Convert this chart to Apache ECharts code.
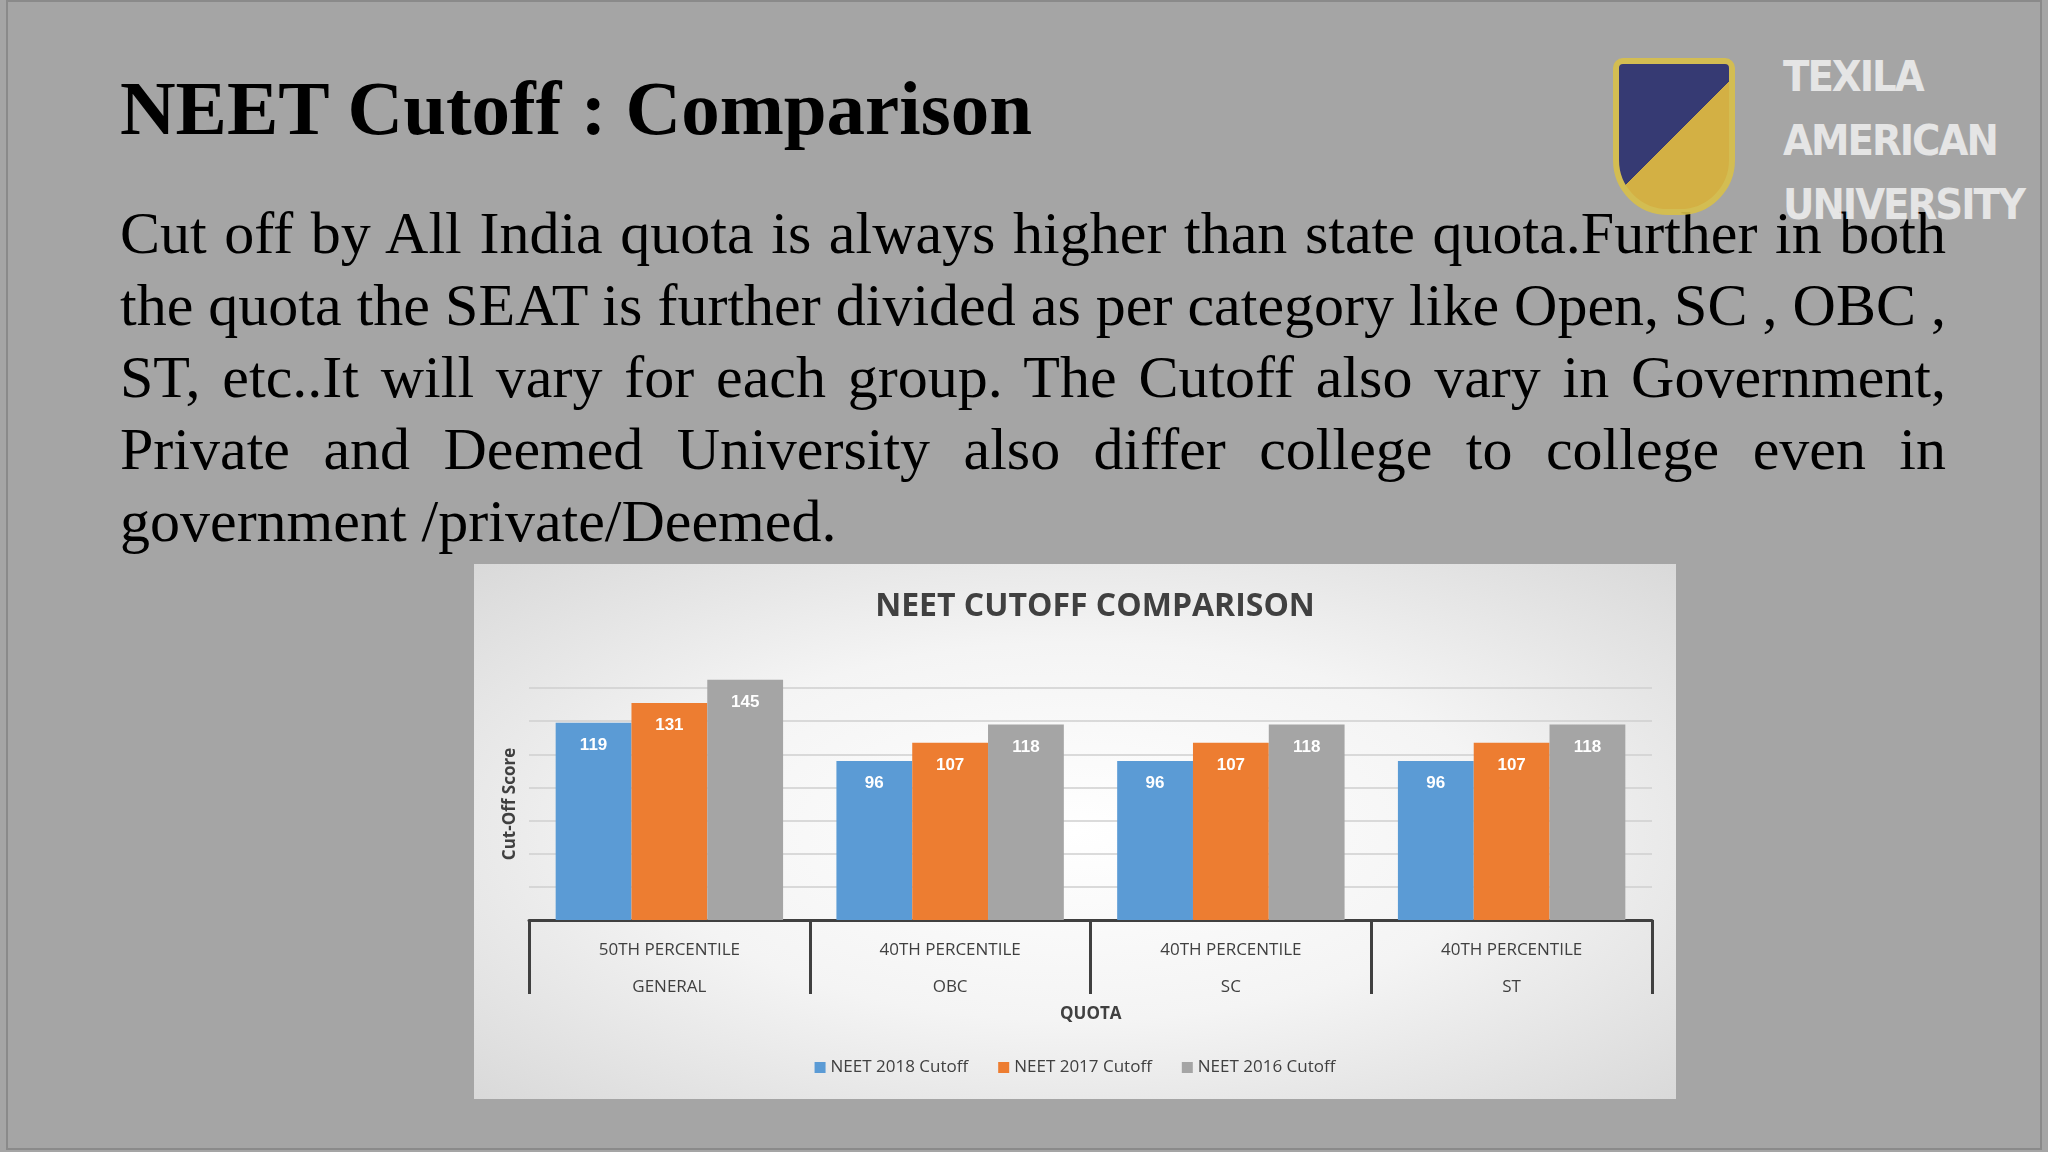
<!DOCTYPE html>
<html>
<head>
<meta charset="utf-8">
<script src="https://cdn.jsdelivr.net/npm/echarts@6/dist/echarts.min.js"></script>
<style>
  html, body { margin: 0; padding: 0; }
  body { width: 2048px; height: 1152px; background: #a5a5a5; position: relative; overflow: hidden; font-family: "Liberation Serif", serif; }
  #frame { position: absolute; left: 6px; top: 0; width: 2036px; height: 1150px; border: 2px solid #8a8a8a; box-sizing: border-box; }
  #title { position: absolute; left: 120px; top: 64px; font-size: 77px; font-weight: bold; color: #000; }
  #para { position: absolute; left: 120px; top: 197px; width: 1826px; font-size: 60px; line-height: 72px; text-align: justify; color: #000; }
  #logo { position: absolute; left: 1578px; top: 30px; width: 440px; height: 200px; opacity: 0.9; }
  #shield { position: absolute; left: 35px; top: 28px; width: 110px; height: 145px; background: linear-gradient(135deg, #2a2f6e 50%, #d8b23a 50%); border-radius: 10px 10px 55px 55px; border: 6px solid #d9c04a; }
  #logotext { position: absolute; left: 205px; top: 14px; font-family: "DejaVu Sans Condensed", sans-serif; font-size: 43px; line-height: 64px; color: #ececec; font-weight: bold; letter-spacing: -2px; }
  #chart { position: absolute; left: 474px; top: 564px; width: 1202px; height: 535px; background: radial-gradient(ellipse at center, #ffffff 0%, #f4f4f4 50%, #d9d9d9 100%); }
</style>
</head>
<body>
<div id="frame"></div>
<div id="title">NEET Cutoff : Comparison</div>
<div id="para">Cut off by All India quota is always higher than state quota.Further in both the quota the SEAT is further divided as per category like Open, SC , OBC , ST, etc..It will vary for each group. The Cutoff also vary in Government, Private and Deemed University also differ college to college even in government /private/Deemed.</div>
<div id="logo"><div id="shield"></div><div id="logotext">TEXILA<br>AMERICAN<br>UNIVERSITY</div></div>
<div id="chart"></div>
<script>
var categories = ['50TH PERCENTILE\nGENERAL', '40TH PERCENTILE\nOBC', '40TH PERCENTILE\nSC', '40TH PERCENTILE\nST'];
var cutoff2018 = [119, 96, 96, 96];
var cutoff2017 = [131, 107, 107, 107];
var cutoff2016 = [145, 118, 118, 118];

var chart = echarts.init(document.getElementById('chart'));
var barLabel = { show: true, position: 'insideTop', color: '#fff', fontWeight: 'bold', fontSize: 17, distance: 14 };
function makeSeries(name, data, color) {
	return { name: name, type: 'bar', data: data, clip: false, barGap: 0, barCategoryGap: '19%',
		itemStyle: { color: color }, label: barLabel };
}
var option = {
	title: { text: 'NEET CUTOFF COMPARISON', left: 616, textAlign: 'center', top: 22,
		textStyle: { fontFamily: 'Open Sans', fontSize: 32, fontWeight: 'bold', color: '#404040' } },
	legend: { bottom: 18, left: 'center', itemWidth: 11, itemHeight: 11, itemGap: 30, icon: 'rect',
		textStyle: { fontFamily: 'Open Sans', fontSize: 17, color: '#404040' } },
	grid: { left: 55, right: 24, top: 124, bottom: 179 },
	xAxis: { type: 'category', data: categories,
		axisLine: { lineStyle: { color: '#404040', width: 3 } },
		axisTick: { show: true, length: 74, interval: 0, lineStyle: { color: '#404040', width: 3 } },
		axisLabel: { interval: 0, margin: 12, fontFamily: 'Open Sans', fontSize: 17, color: '#404040', lineHeight: 37 } },
	yAxis: { type: 'value', min: 0, max: 140, interval: 20,
		name: 'Cut-Off Score', nameLocation: 'middle', nameGap: 10, nameRotate: 90,
		nameTextStyle: { fontFamily: 'Open Sans', fontSize: 17, fontWeight: 'bold', color: '#404040' },
		axisLabel: { show: false }, axisLine: { show: false }, axisTick: { show: false },
		splitLine: { lineStyle: { color: '#cfcfcf', width: 1.5 } } },
	graphic: [{ type: 'text', left: 586, top: 442,
		style: { text: 'QUOTA', fontFamily: 'Open Sans', fontSize: 17, fontWeight: 'bold', fill: '#404040' } }],
	series: [
		makeSeries('NEET 2018 Cutoff', cutoff2018, '#5b9bd5'),
		makeSeries('NEET 2017 Cutoff', cutoff2017, '#ed7d31'),
		makeSeries('NEET 2016 Cutoff', cutoff2016, '#a5a5a5')
	]
};
chart.setOption(option);
</script>
</body>
</html>
